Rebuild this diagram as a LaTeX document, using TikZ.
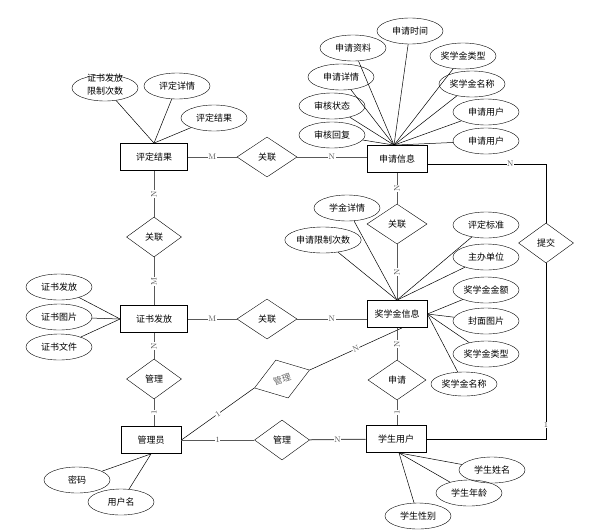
\documentclass[tikz,border=0pt]{standalone}
\usepackage{fontspec}
\newfontfamily\cjk{Noto Sans CJK SC}
\usetikzlibrary{shapes.geometric}

\begin{document}
\begin{tikzpicture}[%
            x=1pt, y=-1pt,
            every node/.style={font=\cjk\fontsize{9}{11}\selectfont},
            entity/.style={draw, thick, minimum width=60pt, minimum height=27pt, inner sep=0pt},
            relation/.style={draw, diamond, minimum width=58pt, minimum height=40pt, inner sep=0pt},
            attr/.style={draw, ellipse, minimum width=66pt, minimum height=26pt, inner sep=0pt},
            link/.style={draw=black!65, line width=1pt},
            attrline/.style={draw, line width=0.5pt},
            card/.style={fill=white, inner sep=0.5pt, font=\fontsize{8}{9}\selectfont, text=black!70},
        ]
        \useasboundingbox (0,0) rectangle (601,530);

        \node[entity, minimum width=67pt] (result) at (154,157) {评定结果};
        \node[entity] (apply) at (397,159) {申请信息};
        \node[entity, minimum width=67pt] (cert) at (154,319) {证书发放};
        \node[entity] (info) at (397,314) {奖学金信息};
        \node[entity] (admin) at (151,440) {管理员};
        \node[entity] (student) at (396,439) {学生用户};

        \node[relation, minimum width=60pt] (rel1) at (267,157) {关联};
        \node[relation, minimum width=55pt] (rel2) at (154,237) {关联};
        \node[relation, minimum width=60pt] (rel3) at (267,319) {关联};
        \node[relation, minimum width=60pt] (rel4) at (397,224) {关联};
        \node[relation, minimum width=55pt] (manage1) at (154,379) {管理};
        \node[relation, minimum width=55pt] (manage2) at (282,440) {管理};
        \node[relation, rotate=18, text=black!60] (manage3) at (282,379) {管理};
        \node[relation] (request) at (397,380) {申请};
        \node[relation, minimum width=55pt] (submit) at (546,243) {提交};

        \node[attr, font=\cjk\fontsize{9}{13}\selectfont] (rlimit) at (105,88) {\smash{\begin{tabular}{@{}c@{}}证书发放\\限制次数\end{tabular}}};
        \node[attr] (rdetail) at (177,86) {评定详情};
        \node[attr] (rresult) at (214,118) {评定结果};

        \node[attr] (atime) at (410,31) {申请时间};
        \node[attr] (adata) at (353,48) {申请资料};
        \node[attr] (adetail) at (341,77) {申请详情};
        \node[attr] (astate) at (332,106) {审核状态};
        \node[attr] (areply) at (332,135) {审核回复};
        \node[attr] (atype) at (463,56) {奖学金类型};
        \node[attr] (aname) at (472,84) {奖学金名称};
        \node[attr] (auser) at (486,112) {申请用户};
        \node[attr] (auser2) at (486,141) {申请用户};

        \node[attr] (idetail) at (347,208) {学金详情};
        \node[attr, minimum width=68pt] (ilimit) at (323,240) {申请限制次数};
        \node[attr] (istd) at (486,225) {评定标准};
        \node[attr] (iorg) at (486,257) {主办单位};
        \node[attr] (iamount) at (486,290) {奖学金金额};
        \node[attr] (icover) at (486,321) {封面图片};
        \node[attr] (itype) at (486,354) {奖学金类型};
        \node[attr, minimum height=24pt] (iname) at (464,384) {奖学金名称};

        \node[attr] (cissue) at (59,287) {证书发放};
        \node[attr] (cimage) at (59,317) {证书图片};
        \node[attr] (cfile) at (59,347) {证书文件};

        \node[attr] (pwd) at (77,480) {密码};
        \node[attr] (uname) at (121,502) {用户名};

        \node[attr] (sname) at (492,470) {学生姓名};
        \node[attr] (sage) at (469,493) {学生年龄};
        \node[attr] (ssex) at (418,516) {学生性别};

        \foreach \a in {rlimit, rdetail, rresult}
            \draw[attrline] (\a) -- (result.north);
        \foreach \a in {atime, adata, adetail, astate, areply, atype, aname, auser, auser2}
            \draw[attrline] (\a) -- ([xshift=-3pt]apply.north);
        \foreach \a in {idetail, ilimit, istd, iorg}
            \draw[attrline] (\a) -- (info.north);
        \foreach \a in {iamount, icover, itype, iname}
            \draw[attrline] (\a) -- (info.east);
        \foreach \a in {cissue, cimage, cfile}
            \draw[attrline] (\a) -- (cert.west);
        \foreach \a in {pwd, uname}
            \draw[attrline] (\a) -- (admin.south);
        \foreach \a in {sname, sage, ssex}
            \draw[attrline] (\a) -- ([xshift=3pt]student.south);

        \draw[link] (result) -- node[card] {M} (rel1);
        \draw[link] (rel1) -- node[card] {N} (rel1 -| apply.west);
        \draw[link] (result) -- node[card, rotate=90] {N} (rel2);
        \draw[link] (rel2) -- node[card, rotate=90] {M} (cert);
        \draw[link] (cert) -- node[card] {M} (rel3);
        \draw[link] (rel3) -- node[card] {N} (rel3 -| info.west);
        \draw[link] (cert) -- node[card, rotate=90] {N} (manage1);
        \draw[link] (manage1) -- node[card, rotate=90] {1} (manage1 |- admin.north);
        \draw[link] (admin) -- node[card] {1} (manage2);
        \draw[link] (manage2) -- node[card] {N} (student);
        \draw[attrline] (admin.east) -- node[card, sloped] {1} (manage3.west);
        \draw[attrline] (manage3.east) -- node[card, sloped] {N} ([xshift=5pt]info.south);
        \draw[link] (apply) -- node[card, rotate=90] {N} (rel4);
        \draw[link] (rel4) -- node[card, rotate=90] {N} (info);
        \draw[link] (info) -- node[card, rotate=90] {N} (request);
        \draw[link] (request) -- node[card, rotate=90] {1} (request |- student.north);
        \draw[attrline] ([yshift=-5pt]apply.east) -| node[card, pos=0.35] {N} (submit.north);
        \draw[attrline] (submit.south) |- node[card, pos=0.46] {1} (student.east);
    \end{tikzpicture}
\end{document}
